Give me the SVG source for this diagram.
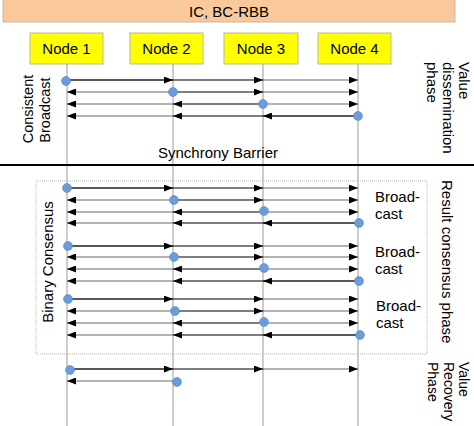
<svg xmlns="http://www.w3.org/2000/svg" width="474" height="426" viewBox="0 0 474 426">
<defs>
<marker id="ah" markerUnits="userSpaceOnUse" markerWidth="9" markerHeight="7" refX="9" refY="3.5" orient="auto">
<path d="M0,0 L9,3.5 L0,7 z" fill="#000"/>
</marker>
<style>
text{font-family:"Liberation Sans",Arial,sans-serif;font-size:15px;fill:#000}
.box{fill:#ffff00;stroke:#b8b89a;stroke-width:1}
.life{stroke:#9a9a9a;stroke-width:1}
.a{stroke:#000;stroke-opacity:.4;stroke-width:1.6;fill:none;marker-end:url(#ah)}
.d{fill:#6b9bd8;stroke:#5b8bc8;stroke-width:.6}
</style>
</defs>
<rect width="474" height="426" fill="#fff"/>
<g id="header">
<rect x="3" y="-1" width="452" height="23" fill="#f9c89b" stroke="#c8b8a8" stroke-width="1"/>
<text x="229" y="17" text-anchor="middle">IC, BC-RBB</text>
</g>
<g id="lifelines">
<line class="life" x1="67" y1="64" x2="67" y2="426"/>
<line class="life" x1="173" y1="64" x2="173" y2="426"/>
<line class="life" x1="263" y1="64" x2="263" y2="426"/>
<line class="life" x1="358" y1="64" x2="358" y2="426"/>
</g>
<g id="node1"><rect class="box" x="30" y="33" width="73" height="31"/><text x="66.5" y="54" text-anchor="middle">Node 1</text></g>
<g id="node2"><rect class="box" x="130" y="33" width="73" height="31"/><text x="166.5" y="54" text-anchor="middle">Node 2</text></g>
<g id="node3"><rect class="box" x="224" y="33" width="74" height="31"/><text x="261" y="54" text-anchor="middle">Node 3</text></g>
<g id="node4"><rect class="box" x="318" y="33" width="73" height="31"/><text x="354.5" y="54" text-anchor="middle">Node 4</text></g>
<g id="barrier">
<line x1="0" y1="165" x2="474" y2="165" stroke="#000" stroke-width="2.2"/>
<text x="218" y="158" text-anchor="middle">Synchrony Barrier</text>
</g>
<g id="consensus-frame">
<rect x="36" y="181" width="391" height="173" fill="none" stroke="#b5b5b5" stroke-width="1" stroke-dasharray="1,1"/>
</g>
<g id="connectors">
<!-- Consistent broadcast -->
<line class="a" x1="67" y1="80" x2="173" y2="80"/><line class="a" x1="67" y1="80" x2="263" y2="80"/><line class="a" x1="67" y1="80" x2="358" y2="80"/>
<line class="a" x1="173" y1="92" x2="67" y2="92"/><line class="a" x1="173" y1="92" x2="263" y2="92"/><line class="a" x1="173" y1="92" x2="358" y2="92"/>
<line class="a" x1="263" y1="104" x2="67" y2="104"/><line class="a" x1="263" y1="104" x2="173" y2="104"/><line class="a" x1="263" y1="104" x2="358" y2="104"/>
<line class="a" x1="358" y1="116" x2="67" y2="116"/><line class="a" x1="358" y1="116" x2="173" y2="116"/><line class="a" x1="358" y1="116" x2="263" y2="116"/>
<!-- Binary consensus 1 -->
<line class="a" x1="67" y1="188" x2="173" y2="188"/><line class="a" x1="67" y1="188" x2="263" y2="188"/><line class="a" x1="67" y1="188" x2="358" y2="188"/>
<line class="a" x1="173" y1="200" x2="67" y2="200"/><line class="a" x1="173" y1="200" x2="263" y2="200"/><line class="a" x1="173" y1="200" x2="358" y2="200"/>
<line class="a" x1="263" y1="212" x2="67" y2="212"/><line class="a" x1="263" y1="212" x2="173" y2="212"/><line class="a" x1="263" y1="212" x2="358" y2="212"/>
<line class="a" x1="358" y1="223" x2="67" y2="223"/><line class="a" x1="358" y1="223" x2="173" y2="223"/><line class="a" x1="358" y1="223" x2="263" y2="223"/>
<!-- Binary consensus 2 -->
<line class="a" x1="67" y1="246" x2="173" y2="246"/><line class="a" x1="67" y1="246" x2="263" y2="246"/><line class="a" x1="67" y1="246" x2="358" y2="246"/>
<line class="a" x1="173" y1="257" x2="67" y2="257"/><line class="a" x1="173" y1="257" x2="263" y2="257"/><line class="a" x1="173" y1="257" x2="358" y2="257"/>
<line class="a" x1="263" y1="269" x2="67" y2="269"/><line class="a" x1="263" y1="269" x2="173" y2="269"/><line class="a" x1="263" y1="269" x2="358" y2="269"/>
<line class="a" x1="358" y1="281" x2="67" y2="281"/><line class="a" x1="358" y1="281" x2="173" y2="281"/><line class="a" x1="358" y1="281" x2="263" y2="281"/>
<!-- Binary consensus 3 -->
<line class="a" x1="67" y1="299" x2="173" y2="299"/><line class="a" x1="67" y1="299" x2="263" y2="299"/><line class="a" x1="67" y1="299" x2="358" y2="299"/>
<line class="a" x1="173" y1="311" x2="67" y2="311"/><line class="a" x1="173" y1="311" x2="263" y2="311"/><line class="a" x1="173" y1="311" x2="358" y2="311"/>
<line class="a" x1="263" y1="323" x2="67" y2="323"/><line class="a" x1="263" y1="323" x2="173" y2="323"/><line class="a" x1="263" y1="323" x2="358" y2="323"/>
<line class="a" x1="358" y1="335" x2="67" y2="335"/><line class="a" x1="358" y1="335" x2="173" y2="335"/><line class="a" x1="358" y1="335" x2="263" y2="335"/>
<!-- Value recovery -->
<line class="a" x1="67" y1="369" x2="173" y2="369"/><line class="a" x1="67" y1="369" x2="263" y2="369"/><line class="a" x1="67" y1="369" x2="358" y2="369"/>
<line class="a" x1="173" y1="381" x2="67" y2="381"/>
</g>
<g id="senders">
<circle class="d" cx="66" cy="81" r="4.5"/><circle class="d" cx="173" cy="92" r="4.5"/><circle class="d" cx="263" cy="104" r="4.5"/><circle class="d" cx="358" cy="116" r="4.5"/>
<circle class="d" cx="67" cy="188" r="4.5"/><circle class="d" cx="174" cy="200" r="4.5"/><circle class="d" cx="264" cy="211" r="4.5"/><circle class="d" cx="359" cy="223" r="4.5"/>
<circle class="d" cx="68" cy="246" r="4.5"/><circle class="d" cx="174" cy="257" r="4.5"/><circle class="d" cx="264" cy="268" r="4.5"/><circle class="d" cx="359" cy="281" r="4.5"/>
<circle class="d" cx="68" cy="299" r="4.5"/><circle class="d" cx="175" cy="311" r="4.5"/><circle class="d" cx="264" cy="322" r="4.5"/><circle class="d" cx="360" cy="335" r="4.5"/>
<circle class="d" cx="70" cy="370" r="4.5"/><circle class="d" cx="177" cy="382" r="4.5"/>
</g>
<g id="labels">
<text transform="translate(33,109) rotate(-90)" text-anchor="middle" style="font-size:14.5px">Consistent</text>
<text transform="translate(50,110) rotate(-90)" text-anchor="middle" style="font-size:14.5px">Broadcast</text>
<text transform="translate(53,262) rotate(-90)" text-anchor="middle">Binary Consensus</text>
<text x="375" y="202">Broad-</text><text x="375" y="219">cast</text>
<text x="375" y="257">Broad-</text><text x="375" y="274">cast</text>
<text x="376" y="311">Broad-</text><text x="376" y="328">cast</text>
<text transform="translate(459,62) rotate(90)">Value</text>
<text transform="translate(443,62) rotate(90)">dissemination</text>
<text transform="translate(427,62) rotate(90)">phase</text>
<text transform="translate(442,180) rotate(90)">Result consensus phase</text>
<text transform="translate(459,362) rotate(90)" style="font-size:14px">Value</text>
<text transform="translate(444,362) rotate(90)" style="font-size:14px">Recovery</text>
<text transform="translate(428,362) rotate(90)" style="font-size:14px">Phase</text>
</g>
</svg>
